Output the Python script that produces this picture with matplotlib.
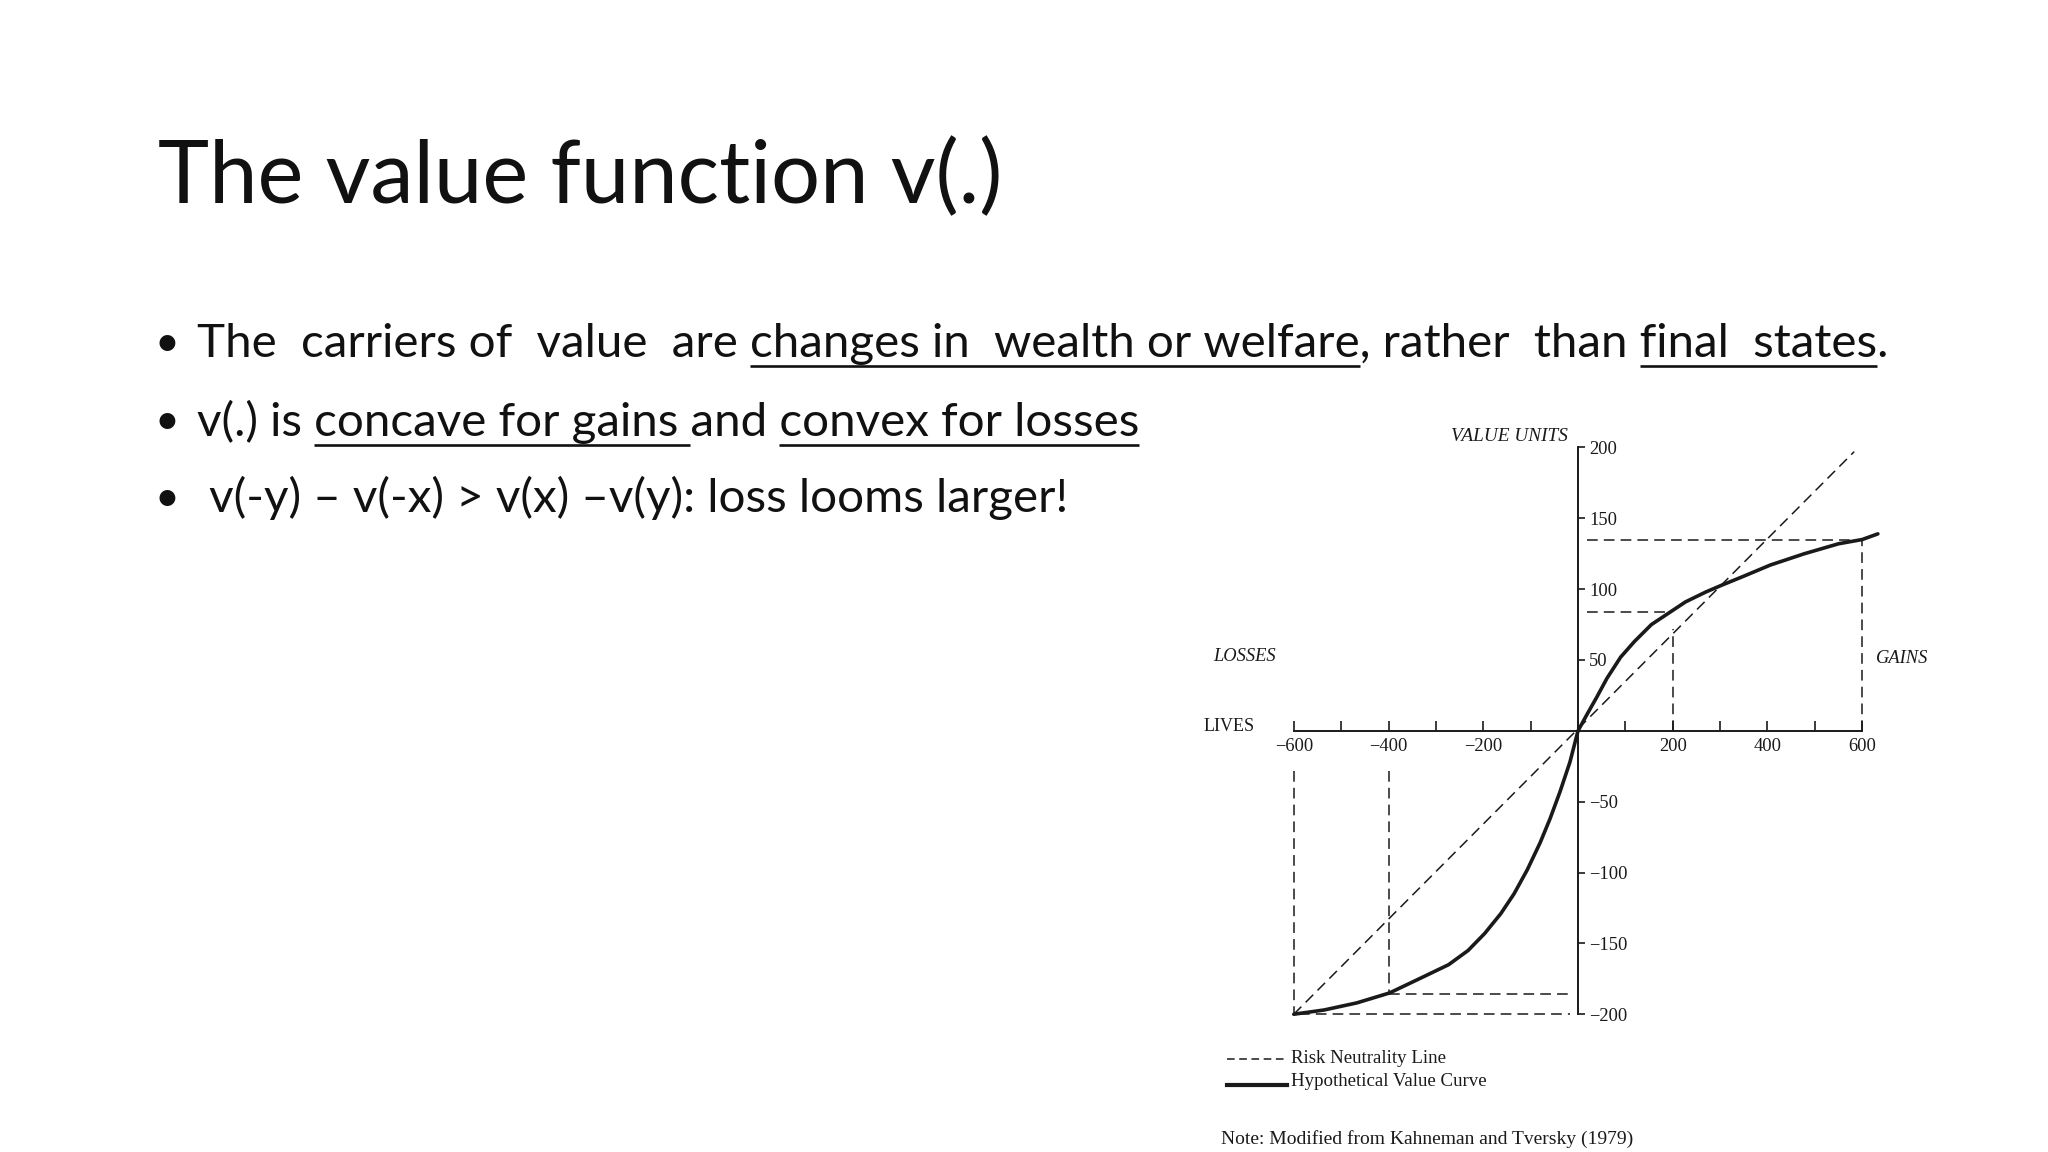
import matplotlib
matplotlib.use("Agg")
import matplotlib.pyplot as plt
from matplotlib.lines import Line2D
import numpy as np

# ---------------------------------------------------------------------------
# Data
# ---------------------------------------------------------------------------

title = "The value function v(.)"
bullet_lines = [
    "The  carriers of  value  are changes in  wealth or welfare, rather  than final  states.",
    "v(.) is concave for gains and convex for losses",
    " v(-y) \u2013 v(-x) > v(x) \u2013v(y): loss looms larger!",
]
bullet_underlines = [
    ["changes in  wealth or welfare", "final  states"],
    ["concave for gains ", "convex for losses"],
    [],
]

# hypothetical value curve (lives vs value units)
loss_x = [-600, -536, -467, -398, -329, -273, -232, -197, -163, -135, -107, -80, -59, -38, -17, 0]
loss_y = [-200, -197, -192, -185, -174, -165, -155, -143, -129, -115, -98, -79, -62, -43, -22, 0]
gain_x = [0, 18, 40, 61, 90, 119, 155, 191, 227, 270, 305, 349, 406, 478, 550, 600, 633]
gain_y = [0, 11, 24, 37, 52, 63, 75, 83, 91, 98, 103, 109, 117, 125, 132, 135, 139]

# risk neutrality line end points
risk_x = [-600, 583]
risk_y = [-200, 197]

# dashed reading guides: (y, x_from, x_to) and (x, y_from, y_to)
guide_h = [(84, 20, 185), (135, 18, 575), (-186, -400, -14), (-200, -590, -17)]
guide_v = [(200, 0, 72), (600, 0, 135), (-400, -28, -186), (-600, -28, -200)]

xtick_vals = [-600, -500, -400, -300, -200, -100, 0, 100, 200, 300, 400, 500, 600]
xtick_labels = ["\u2212600", "", "\u2212400", "", "\u2212200", "", "", "", "200", "", "400", "", "600"]
ytick_vals = [-200, -150, -100, -50, 50, 100, 150, 200]
ytick_labels = ["\u2212200", "\u2212150", "\u2212100", "\u221250", "50", "100", "150", "200"]

legend_labels = ["Risk Neutrality Line", "Hypothetical Value Curve"]
note = "Note: Modified from Kahneman and Tversky (1979)"

# ---------------------------------------------------------------------------
# Layout helpers (reference measured on a 1560 x 878 view of the slide)
# ---------------------------------------------------------------------------

W, H = 2048, 1152
REF_W, REF_H = 1560.0, 878.0
SANS = ["Lato", "DejaVu Sans"]
SERIF = ["Liberation Serif", "DejaVu Serif"]
INK = "#111111"
CHART_INK = "#1a1a1a"


def fx(px):
    return px / REF_W


def fy(py):
    return 1.0 - py / REF_H


fig = plt.figure(figsize=(W / 100, H / 100), dpi=100)
fig.patch.set_facecolor("white")
renderer = fig.canvas.get_renderer()


def text_width(s, **kw):
    t = fig.text(0, 0, s, **kw)
    w = t.get_window_extent(renderer).width
    t.remove()
    return w


def prefix_width(s, **kw):
    if not s:
        return 0.0
    return text_width(s + "|", **kw) - text_width("|", **kw)


def fit_size(s, target_px, **kw):
    base = 40.0
    return base * target_px / text_width(s, fontsize=base, **kw)


# ---------------------------------------------------------------------------
# Slide text
# ---------------------------------------------------------------------------

title_kw = dict(family=SANS, weight="normal")
title_size = fit_size(title, fx(642) * W, **title_kw)
fig.text(fx(120), fy(155), title, fontsize=title_size, va="baseline", ha="left",
         color=INK, **title_kw)

body_kw = dict(family=SANS, weight="normal")
body_size = fit_size(bullet_lines[0], fx(1287) * W, **body_kw)
baselines = [272, 332, 390]

for line, marks, base_y in zip(bullet_lines, bullet_underlines, baselines):
    # bullet glyph, centred on the x-height like the slide's bullet
    fig.text(fx(127), fy(base_y - 10), "\u2022", fontsize=body_size * 0.9, va="center",
             ha="center", color=INK, **body_kw)
    x0 = fx(150)
    fig.text(x0, fy(base_y), line, fontsize=body_size, va="baseline", ha="left",
             color=INK, **body_kw)
    for phrase in marks:
        i0 = line.index(phrase)
        i1 = i0 + len(phrase)
        xs = x0 * W + prefix_width(line[:i0], fontsize=body_size, **body_kw)
        xe = x0 * W + prefix_width(line[:i1], fontsize=body_size, **body_kw)
        yu = fy(base_y + 7)
        fig.add_artist(Line2D([xs / W, xe / W], [yu, yu], transform=fig.transFigure,
                              color=INK, lw=1.9, solid_capstyle="butt"))

# ---------------------------------------------------------------------------
# Value function chart
# ---------------------------------------------------------------------------

ux = (fx(1416) - fx(983)) / 1200.0
uy = (773 - 341) / REF_H / 400.0
x_half, y_half = 700, 240
ax_left = fx(1202) - x_half * ux
ax_bottom = fy(557) - y_half * uy
ax = fig.add_axes([ax_left, ax_bottom, 2 * x_half * ux, 2 * y_half * uy])
ax.set_xlim(-x_half, x_half)
ax.set_ylim(-y_half, y_half)
ax.patch.set_alpha(0)

for side in ["top", "left"]:
    ax.spines[side].set_visible(False)
ax.spines["bottom"].set_position(("data", 0))
ax.spines["bottom"].set_bounds(-600, 600)
ax.spines["right"].set_position(("data", 0))
ax.spines["right"].set_bounds(-200, 200)
for side in ["bottom", "right"]:
    ax.spines[side].set_linewidth(1.4)
    ax.spines[side].set_color(CHART_INK)

ax.set_xticks(xtick_vals)
ax.set_xticklabels(xtick_labels, family=SERIF, fontsize=13.3, color=CHART_INK)
ax.tick_params(axis="x", direction="in", length=7, width=1.2, pad=5, color=CHART_INK)
ax.yaxis.set_ticks_position("right")
ax.set_yticks(ytick_vals)
ax.set_yticklabels(ytick_labels, family=SERIF, fontsize=13.3, color=CHART_INK)
ax.tick_params(axis="y", direction="out", length=5, width=1.2, pad=3, color=CHART_INK)

dash_kw = dict(color=CHART_INK, lw=1.1, dashes=(7, 4), clip_on=False)
ax.plot(risk_x, risk_y, **dash_kw)
for y, x0_, x1_ in guide_h:
    ax.plot([x0_, x1_], [y, y], **dash_kw)
for x, y0_, y1_ in guide_v:
    ax.plot([x, x], [y0_, y1_], **dash_kw)

curve_x = np.array(loss_x + gain_x[1:])
curve_y = np.array(loss_y + gain_y[1:])
ax.plot(curve_x, curve_y, color=CHART_INK, lw=2.6, solid_joinstyle="round",
        solid_capstyle="round", clip_on=False)

# axis captions
fig.text(fx(1194), fy(333), "VALUE UNITS", family=SERIF, style="italic", fontsize=13.9,
         ha="right", va="center", color=CHART_INK)
fig.text(fx(924), fy(500), "LOSSES", family=SERIF, style="italic", fontsize=13.3,
         ha="left", va="center", color=CHART_INK)
fig.text(fx(1429), fy(502), "GAINS", family=SERIF, style="italic", fontsize=13.3,
         ha="left", va="center", color=CHART_INK)
fig.text(fx(917), fy(554), "LIVES", family=SERIF, fontsize=13, ha="left",
         va="center", color=CHART_INK)

# hand-drawn legend
fig.add_artist(Line2D([fx(935), fx(978)], [fy(807), fy(807)], transform=fig.transFigure,
                      color=CHART_INK, lw=1.1, dashes=(5, 3)))
fig.add_artist(Line2D([fx(935), fx(980)], [fy(827), fy(827)], transform=fig.transFigure,
                      color=CHART_INK, lw=3.0))
fig.text(fx(983), fy(807), legend_labels[0], family=SERIF, fontsize=13.6, ha="left",
         va="center", color=CHART_INK)
fig.text(fx(983), fy(824), legend_labels[1], family=SERIF, fontsize=13.6, ha="left",
         va="center", color=CHART_INK)
fig.text(fx(930), fy(868), note, family=SERIF, fontsize=14, ha="left",
         va="center", color=CHART_INK)

fig.savefig("out.png", dpi=100, facecolor="white")
